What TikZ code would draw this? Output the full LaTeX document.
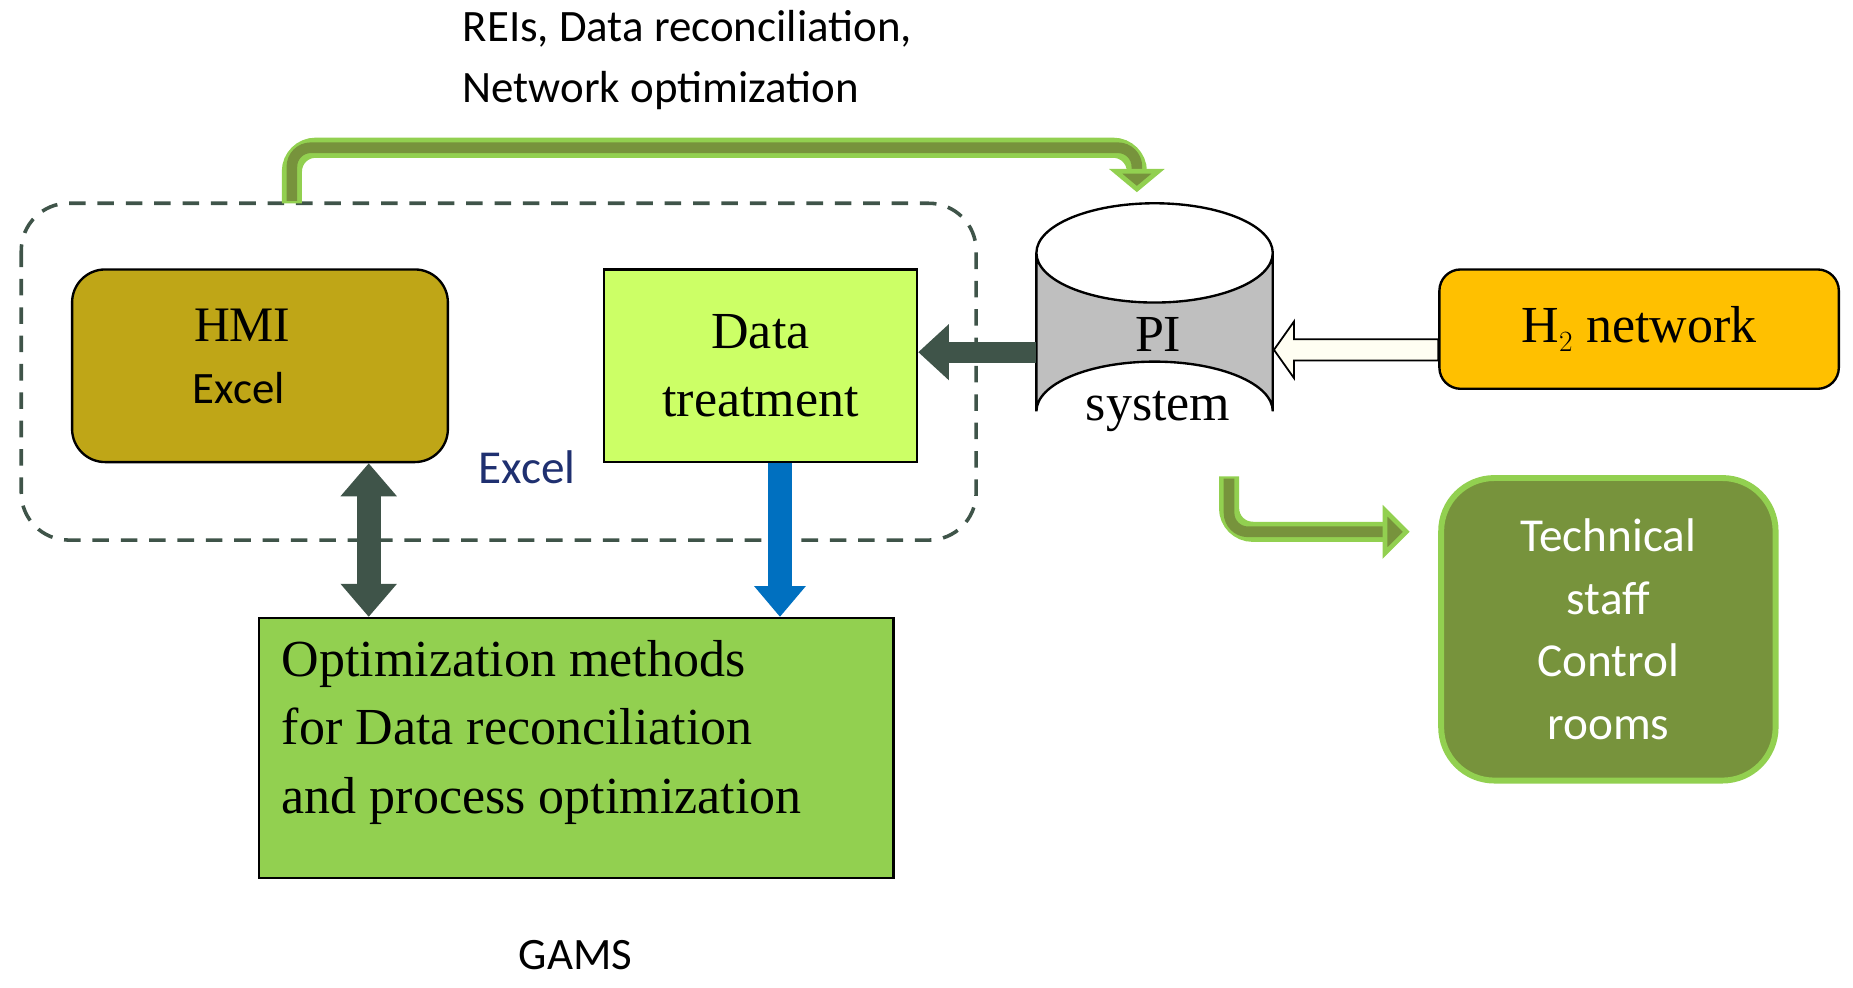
\documentclass[tikz,border=0pt]{standalone}
\usepackage{fontspec}
\setmainfont{Liberation Serif}
\newfontfamily\calfont{Carlito}
\usetikzlibrary{arrows.meta}
\definecolor{olive}{HTML}{BFA617}
\definecolor{lime}{HTML}{CCFF66}
\definecolor{lgreen}{HTML}{92D050}
\definecolor{dgreen}{HTML}{77933C}
\definecolor{slate}{HTML}{3F5449}
\definecolor{amber}{HTML}{FFC000}
\definecolor{blu}{HTML}{0070C0}
\definecolor{navy}{HTML}{1F3070}
\tikzset{
 box/.style={draw=black,line width=2,inner sep=0,align=center},
 ser/.style={font=\fontsize{44}{58}\selectfont},
 san/.style={font=\calfont\fontsize{40}{53}\selectfont},
 fatl/.style={line width=17,lgreen},
 fatd/.style={line width=9,dgreen},
}
\begin{document}
\begin{tikzpicture}[x=1pt,y=-1pt]
\useasboundingbox (0,0) rectangle (1568,836);
% label
\node[san,font=\calfont\fontsize{38}{52}\selectfont,align=left,anchor=north west] (lab) at (388,5) {REIs, Data reconciliation,\\Network optimization};
% dashed
\draw[slate,line width=3,dash pattern=on 14 off 10,rounded corners=40] (18,172) rectangle (826,457);
\coordinate (dtop) at (247,172);
% boxes
\node[box,fill=olive,rounded corners=28,minimum width=318,minimum height=163,anchor=north west] (hmi) at (60,227) {};
\node[ser,font=\fontsize{42}{50}\selectfont] at (205,275) {HMI};
\node[san,font=\calfont\fontsize{38}{46}\selectfont] at (202,328) {Excel};
\node[box,fill=lime,minimum width=265,minimum height=163,anchor=north west,ser] (dt) at (510,227) {Data\\treatment};
\node[san,text=navy] (excel) at (446,395) {Excel};
\node[box,fill=amber,rounded corners=18,minimum width=338,minimum height=101,anchor=north west,ser] (h2) at (1217,227) {H$_2$ network};
\node[box,draw=lgreen,line width=5,fill=dgreen,rounded corners=45,minimum width=283,minimum height=256,anchor=north west,san,text=white] (tech) at (1217,402) {Technical\\staff\\Control\\rooms};
\node[box,fill=lgreen,minimum width=537,minimum height=220,anchor=north west] (opt) at (218,522) {};
\node[ser,align=left,anchor=north west,font=\fontsize{44}{58}\selectfont] at (235,538) {Optimization methods\\for Data reconciliation\\and process optimization};
\node[san,font=\calfont\fontsize{38}{46}\selectfont] (gams) at (487,808) {GAMS};
% cylinder
\node[minimum width=200,minimum height=218,inner sep=0] (pi) at (977,281) {};
\draw[line width=2,fill=gray!50] (877,214) -- (877,348) arc[start angle=180,end angle=360,x radius=100,y radius=42] -- (1077,214) arc[start angle=0,end angle=180,x radius=100,y radius=42] -- cycle;
\draw[line width=2] (877,214) arc[start angle=180,end angle=360,x radius=100,y radius=42];
\node[ser,align=center] at (980,317) {PI\\system};
% arrows
\draw[slate,line width=18,-{Triangle[length=26,width=46]}] (pi.west|-0,298) -- (dt.east|-0,298);
\draw[slate,line width=20,{Triangle[length=28,width=46]}-{Triangle[length=28,width=46]}] (hmi.south-|312,0) -- (opt.north-|312,0);
\draw[blu,line width=20,-{Triangle[length=26,width=42]}] (dt.south-|660,0) -- (opt.north-|660,0);
\draw[line width=1.5,fill=white!95!yellow] (h2.west|-0,287) -- (1095,287) -- (1095,272) -- (1078,296) -- (1095,320) -- (1095,305) -- (h2.west|-0,305) -- cycle;
% bent arrows
\coordinate (a1) at (962,147);
\draw[fatl,rounded corners=20] (dtop) -- (247,125) -- (962,125) -- (a1);
\draw[fatd,rounded corners=16] (247,170) -- (247,125) -- (962,125) -- (a1);
\fill[dgreen,draw=lgreen,line width=4] (944,145) -- (980,145) -- (962,160) -- cycle;
\coordinate (a2s) at (1040,403);
\coordinate (a2) at (1172,450);
\draw[fatl,rounded corners=20] (a2s) -- (1040,450) -- (a2);
\draw[fatd,rounded corners=16] (1040,405) -- (1040,450) -- (a2);
\fill[dgreen,draw=lgreen,line width=4] (1172,432) -- (1172,468) -- (1190,450) -- cycle;
\end{tikzpicture}
\end{document}
